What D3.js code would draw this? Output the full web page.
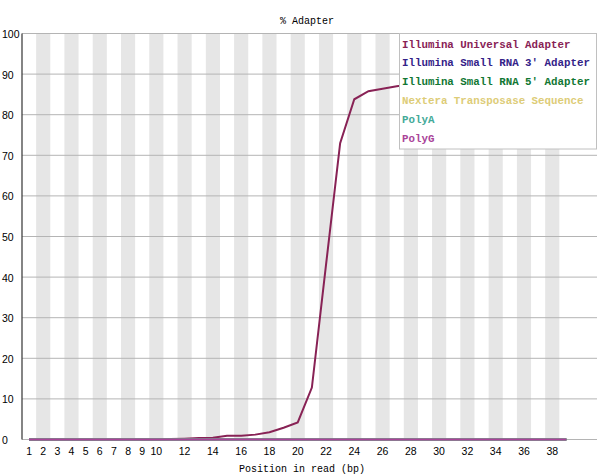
<!DOCTYPE html>
<html>
<head>
<meta charset="utf-8">
<script src="https://cdn.jsdelivr.net/npm/d3@7"></script>
<style>
  body { margin: 0; background: #fff; }
  svg { display: block; }
  .tick-label { font-family: "Liberation Sans", Arial, sans-serif; font-size: 10.5px; fill: #000; }
  .mono { font-family: "Liberation Mono", "DejaVu Sans Mono", monospace; }
</style>
</head>
<body>
<div id="chart"></div>
<script>
var width = 600,
    height = 474;

// positions in read (bp)
var positions = d3.range(1, 40);

var xTickLabels = [1, 2, 3, 4, 5, 6, 7, 8, 9, 10, 12, 14, 16, 18, 20, 22, 24, 26, 28, 30, 32, 34, 36, 38];
var yTicks = [0, 10, 20, 30, 40, 50, 60, 70, 80, 90, 100];

var seriesNames = [
  "Illumina Universal Adapter",
  "Illumina Small RNA 3' Adapter",
  "Illumina Small RNA 5' Adapter",
  "Nextera Transposase Sequence",
  "PolyA",
  "PolyG"
];
var seriesColors = ["#882255", "#332288", "#117733", "#ddcc77", "#44aa99", "#aa4499"];

var universal = [0, 0, 0, 0, 0, 0, 0, 0, 0, 0,
  0.1, 0.2, 0.35, 0.45, 0.9, 0.95, 1.2, 1.8, 2.9, 4.2,
  12.8, 43, 73, 83.8, 85.8, 86.4, 87.0, 87.5, 87.9, 88.2,
  88.5, 88.8, 89.0, 89.2, 89.4, 89.6, 89.8, 89.9, 90.0];
var smallRna3 = [0, 0, 0, 0, 0, 0, 0, 0, 0, 0, 0, 0, 0, 0, 0, 0, 0, 0, 0, 0,
  0, 0, 0, 0, 0, 0, 0, 0, 0, 0, 0, 0, 0, 0, 0, 0, 0, 0, 0];
var smallRna5 = [0, 0, 0, 0, 0, 0, 0, 0, 0, 0, 0, 0, 0, 0, 0, 0, 0, 0, 0, 0,
  0, 0, 0, 0, 0, 0, 0, 0, 0, 0, 0, 0, 0, 0, 0, 0, 0, 0, 0];
var nextera = [0, 0, 0, 0, 0, 0, 0, 0, 0, 0, 0, 0, 0, 0, 0, 0, 0, 0, 0, 0,
  0, 0, 0, 0, 0, 0, 0, 0, 0, 0, 0, 0, 0, 0, 0, 0, 0, 0, 0];
var polyA = [0, 0, 0, 0, 0, 0, 0, 0, 0, 0, 0, 0, 0, 0, 0, 0, 0, 0, 0, 0,
  0, 0, 0, 0, 0, 0, 0, 0, 0, 0, 0, 0, 0, 0, 0, 0, 0, 0, 0];
var polyG = [0, 0, 0, 0, 0, 0, 0, 0, 0, 0, 0, 0, 0, 0, 0, 0, 0, 0, 0, 0,
  0, 0, 0, 0, 0, 0, 0, 0, 0, 0, 0, 0, 0, 0, 0, 0, 0, 0, 0];

var seriesValues = [universal, smallRna3, smallRna5, nextera, polyA, polyG];

var plotLeft = 22, plotTop = 33.5, plotBottom = 439.5, gridRight = 597;

var x = d3.scaleBand()
    .domain(positions)
    .range([plotLeft, plotLeft + positions.length * 14.14])
    .padding(0);

var y = d3.scaleLinear()
    .domain([0, 100])
    .range([plotBottom, plotTop]);

var svg = d3.select("#chart").append("svg")
    .attr("width", width)
    .attr("height", height);

// alternating column stripes
svg.append("g")
  .selectAll("rect")
    .data(positions.filter(function(p) { return p % 2 == 0; }))
  .enter().append("rect")
    .attr("x", function(d) { return x(d); })
    .attr("y", plotTop)
    .attr("width", x.bandwidth())
    .attr("height", plotBottom - plotTop)
    .attr("fill", "#e6e6e6");

// horizontal grid
svg.append("g")
  .selectAll("line")
    .data(yTicks)
  .enter().append("line")
    .attr("x1", plotLeft)
    .attr("x2", gridRight)
    .attr("y1", function(d) { return y(d); })
    .attr("y2", function(d) { return y(d); })
    .attr("stroke", "#b4b4b4")
    .attr("stroke-width", 1);

// y axis line
svg.append("line")
    .attr("x1", plotLeft).attr("x2", plotLeft)
    .attr("y1", plotTop).attr("y2", plotBottom)
    .attr("stroke", "#333")
    .attr("stroke-width", 1.2);

// y labels
svg.append("g")
  .selectAll("text")
    .data(yTicks)
  .enter().append("text")
    .attr("class", "tick-label")
    .attr("x", 2)
    .attr("y", function(d) { return y(d) + 4.5; })
    .text(function(d) { return d; });

// x labels
svg.append("g")
  .selectAll("text")
    .data(xTickLabels)
  .enter().append("text")
    .attr("class", "tick-label")
    .attr("text-anchor", "middle")
    .attr("x", function(d) { return x(d) + x.bandwidth() / 2; })
    .attr("y", 454.5)
    .text(function(d) { return d; });

// lines
var line = d3.line()
    .x(function(d, i) { return x(positions[i]) + x.bandwidth() / 2; })
    .y(function(d) { return y(d); });

svg.append("g")
  .selectAll("path")
    .data(seriesValues)
  .enter().append("path")
    .attr("d", line)
    .attr("fill", "none")
    .attr("stroke", function(d, i) { return seriesColors[i]; })
    .attr("stroke-width", 2);

// title and axis label
svg.append("text")
    .attr("class", "mono")
    .attr("x", 307)
    .attr("y", 23.5)
    .attr("text-anchor", "middle")
    .style("font-size", "10px")
    .text("% Adapter");

svg.append("text")
    .attr("class", "mono")
    .attr("x", 302)
    .attr("y", 471.5)
    .attr("text-anchor", "middle")
    .style("font-size", "10px")
    .text("Position in read (bp)");

// legend
var legend = svg.append("g");

legend.append("rect")
    .attr("x", 399.5)
    .attr("y", 33.5)
    .attr("width", 197)
    .attr("height", 115.5)
    .attr("fill", "#fff")
    .attr("stroke", "#c0c0c0");

legend.selectAll("text")
    .data(seriesNames)
  .enter().append("text")
    .attr("class", "mono")
    .attr("x", 402)
    .attr("y", function(d, i) { return 47.5 + i * 18.9; })
    .style("font-size", "10.8px")
    .style("font-weight", "bold")
    .attr("fill", function(d, i) { return seriesColors[i]; })
    .text(function(d) { return d; });
</script>
</body>
</html>
